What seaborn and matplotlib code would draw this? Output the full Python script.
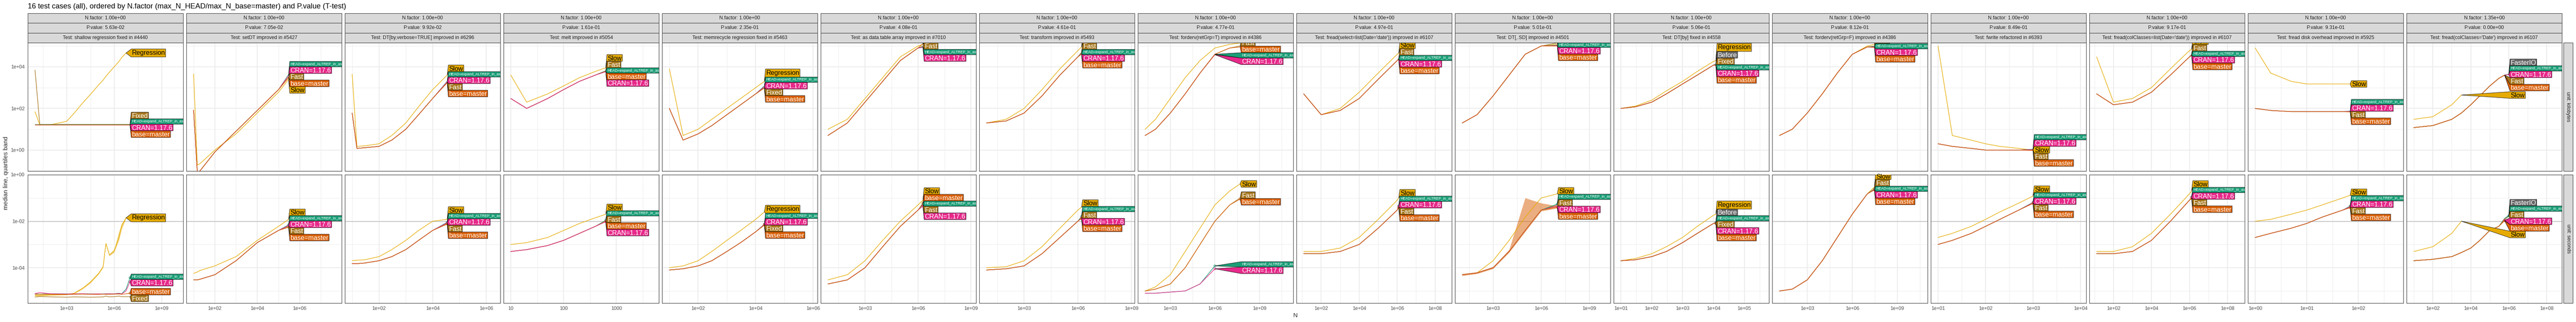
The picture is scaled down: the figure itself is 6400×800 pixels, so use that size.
import math

import matplotlib
matplotlib.use("Agg")
import matplotlib.pyplot as plt
import pandas as pd
import seaborn as sns
from matplotlib.patches import Polygon, Rectangle
from matplotlib.ticker import FixedLocator, NullFormatter, FixedFormatter
from matplotlib.transforms import IdentityTransform

TITLE = "16 test cases (all), ordered by N.factor (max_N_HEAD/max_N_base=master) and P.value (T-test)"

TEST_NAMES = [
    "shallow regression fixed in #4440",
    "setDT improved in #5427",
    "DT[by,verbose=TRUE] improved in #6296",
    "melt improved in #5054",
    "memrecycle regression fixed in #5463",
    "as.data.table.array improved in #7010",
    "transform improved in #5493",
    "forderv(retGrp=T) improved in #4386",
    "fread(select=list(Date='date')) improved in #6107",
    "DT[,.SD] improved in #4501",
    "DT[by] fixed in #4558",
    "forderv(retGrp=F) improved in #4386",
    "fwrite refactored in #6393",
    "fread(colClasses=list(Date='date')) improved in #6107",
    "fread disk overhead improved in #5925",
    "fread(colClasses='Date') improved in #6107",
]
N_FACTOR = ["1.00e+00"] * 15 + ["1.35e+00"]
P_VALUE = ["5.63e-02", "7.05e-02", "9.92e-02", "1.61e-01", "2.35e-01", "4.08e-01",
           "4.61e-01", "4.77e-01", "4.97e-01", "5.01e-01", "5.06e-01", "8.12e-01",
           "8.49e-01", "9.17e-01", "9.31e-01", "0.00e+00"]
UNITS = ["kilobytes", "seconds"]

VERSION_COLORS = {
    "HEAD": "#1B9E77", "base": "#D95F02", "CRAN": "#E7298A",
    "Fixed": "#A6761D", "Fast": "#A6761D",
    "Regression": "#E6AB02", "Slow": "#E6AB02",
    "FasterIO": "#666666", "Before": "#666666",
}
LABEL_TEXT = {"HEAD": "HEAD=expand_ALTREP_in_assign", "CRAN": "CRAN=1.17.6", "base": "base=master"}
DARK_TEXT = {"Regression", "Slow"}

# ---- panel data: N knots and median values per version (kilobytes / seconds) ----
p01_N = [10, 20, 1e2, 1e3, 3e3, 1e4, 3e4, 1e5, 2e5, 3e5, 5e5, 1e6, 2e6, 3e6, 5.6e6, 1e7]
p01_kb = {
    "Regression": [70, 16, 16.5, 24, 60, 180, 450, 1300, 2300, 3500, 5500, 10000, 18000, 28000, 46000],
    "Fixed": [7000, 17, 17, 17, 17, 17, 17, 17, 17, 17, 17, 17, 17, 17, 17, 17],
    "HEAD": [16.8] * 16,
    "CRAN": [16.5] * 16,
    "base": [16.2] * 16,
}
p01_sec = {
    "Regression": [6.4e-6, 6.5e-6, 6.8e-6, 7e-6, 8e-6, 1.3e-5, 2.3e-5, 5.5e-5, 1.1e-4, 1.1e-3, 3.5e-4, 5.5e-4, 2e-3, 6.5e-3, 1.4e-2],
    "Fixed": [5.5e-6, 5.8e-6, 5.6e-6, 5.4e-6, 5.6e-6, 5.5e-6, 5.4e-6, 5.5e-6, 5.6e-6, 6e-6, 5.6e-6, 5.7e-6, 6e-6, 5.7e-6, 5.7e-6, 5.7e-6],
    "HEAD": [7.5e-6, 7.4e-6, 7.6e-6, 7.5e-6, 7.4e-6, 7.6e-6, 7.5e-6, 7.4e-6, 7.5e-6, 7.6e-6, 7.5e-6, 7.6e-6, 8e-6, 7.6e-6, 1.2e-5, 3.7e-5],
    "CRAN": [7.8e-6, 8.5e-6, 7.6e-6, 7.4e-6, 7.5e-6, 7.6e-6, 7.4e-6, 7.5e-6, 7.4e-6, 7.5e-6, 7.6e-6, 7.5e-6, 7.8e-6, 7.5e-6, 1e-5, 2.5e-5],
    "base": [7.2e-6, 7.3e-6, 7.2e-6, 7.1e-6, 7.2e-6, 7.3e-6, 7.2e-6, 7.1e-6, 7.3e-6, 7.2e-6, 7.2e-6, 7.3e-6, 7.4e-6, 7.2e-6, 7.6e-6, 8e-6],
}

p02_N = [10, 15, 20, 1e2, 1e3, 1e4, 1e5, 3e5]
p02_kb = {
    "Slow": [4500, 0.19, 0.22, 1.0, 6, 60, 600, 2500],
    "Fast": [83, 0.08, 0.1, 0.8, 8, 80, 800, 3200],
    "HEAD": [83, 0.08, 0.1, 0.8, 8, 80, 800, 4200],
    "CRAN": [83, 0.08, 0.1, 0.8, 8, 80, 800, 3800],
    "base": [83, 0.08, 0.1, 0.8, 8, 80, 800, 3000],
}
p02_sec = {
    "Slow": [5.7e-5, 6.5e-5, 7.6e-5, 1.2e-4, 3e-4, 1.5e-3, 6e-3, 1.2e-2],
    "Fast": [3e-5, 3e-5, 3.2e-5, 5e-5, 2e-4, 1.2e-3, 4e-3, 6e-3],
    "HEAD": [3e-5, 3e-5, 3.2e-5, 5e-5, 2e-4, 1.2e-3, 4e-3, 7e-3],
    "CRAN": [3e-5, 3e-5, 3.2e-5, 5e-5, 2e-4, 1.2e-3, 4e-3, 6.5e-3],
    "base": [3e-5, 3e-5, 3.2e-5, 5e-5, 2e-4, 1.2e-3, 4e-3, 5.5e-3],
}

p03_N = [10, 15, 30, 1e2, 3e2, 1e3, 3e3, 1e4, 3.5e4]
p03_kb = {
    "Slow": [4400, 1.5, 1.6, 2, 5, 20, 120, 800, 4000],
    "Fast": [60, 1.2, 1.3, 1.5, 3, 10, 50, 300, 1800],
    "HEAD": [60, 1.2, 1.3, 1.5, 3, 10, 50, 300, 2000],
    "CRAN": [60, 1.2, 1.3, 1.5, 3, 10, 50, 300, 1900],
    "base": [60, 1.2, 1.3, 1.5, 3, 10, 50, 300, 1700],
}
p03_sec = {
    "Slow": [2e-4, 2.1e-4, 2.2e-4, 3e-4, 6e-4, 1.5e-3, 4e-3, 1e-2, 1.2e-2],
    "Fast": [1.5e-4, 1.5e-4, 1.6e-4, 2e-4, 3e-4, 6e-4, 1.5e-3, 4e-3, 8e-3],
    "HEAD": [1.5e-4, 1.5e-4, 1.6e-4, 2e-4, 3e-4, 6e-4, 1.5e-3, 4e-3, 9e-3],
    "CRAN": [1.5e-4, 1.5e-4, 1.6e-4, 2e-4, 3e-4, 6e-4, 1.5e-3, 4e-3, 8.5e-3],
    "base": [1.5e-4, 1.5e-4, 1.6e-4, 2e-4, 3e-4, 6e-4, 1.5e-3, 4e-3, 7.5e-3],
}

p04_N = [10, 20, 50, 100, 200, 400, 630]
p04_kb = {
    "Slow": [4000, 200, 500, 1200, 3000, 6000, 9000],
    "Fast": [300, 100, 300, 800, 2000, 4000, 6500],
    "HEAD": [300, 100, 300, 800, 2000, 4000, 6300],
    "base": [300, 100, 300, 800, 2000, 4000, 6000],
    "CRAN": [300, 100, 300, 800, 2000, 4000, 5800],
}
p04_sec = {
    "Slow": [1e-3, 1.2e-3, 2e-3, 4e-3, 8e-3, 1.4e-2, 2e-2],
    "Fast": [5e-4, 6e-4, 9e-4, 1.5e-3, 3e-3, 6e-3, 1e-2],
    "HEAD": [5e-4, 6e-4, 9e-4, 1.5e-3, 3e-3, 6e-3, 1.1e-2],
    "base": [5e-4, 6e-4, 9e-4, 1.5e-3, 3e-3, 6e-3, 1e-2],
    "CRAN": [5e-4, 6e-4, 9e-4, 1.5e-3, 3e-3, 6e-3, 9.5e-3],
}

p05_N = [10, 30, 1e2, 3e2, 1e3, 3e3, 1e4, 2e4]
p05_kb = {
    "Regression": [8000, 5, 10, 30, 100, 300, 1000, 2000],
    "Fixed": [100, 3, 6, 15, 50, 150, 500, 1000],
    "HEAD": [100, 3, 6, 15, 50, 150, 500, 1200],
    "CRAN": [100, 3, 6, 15, 50, 150, 500, 1100],
    "base": [100, 3, 6, 15, 50, 150, 500, 950],
}
p05_sec = {
    "Regression": [1e-4, 1.2e-4, 2e-4, 5e-4, 1.5e-3, 4e-3, 1.2e-2, 2.5e-2],
    "Fixed": [8e-5, 9e-5, 1.2e-4, 2e-4, 5e-4, 1.2e-3, 3.5e-3, 7e-3],
    "HEAD": [8e-5, 9e-5, 1.2e-4, 2e-4, 5e-4, 1.2e-3, 3.5e-3, 7.5e-3],
    "CRAN": [8e-5, 9e-5, 1.2e-4, 2e-4, 5e-4, 1.2e-3, 3.5e-3, 7.2e-3],
    "base": [8e-5, 9e-5, 1.2e-4, 2e-4, 5e-4, 1.2e-3, 3.5e-3, 6.8e-3],
}

p06_N = [8, 100, 1e3, 1e4, 1e5, 1e6, 1.9e6]
p06_kb = {
    "Slow": [10, 30, 300, 3000, 30000, 100000, 120000],
    "Fast": [5, 20, 200, 2000, 20000, 80000, 100000],
    "HEAD": [5, 20, 200, 2000, 20000, 80000, 90000],
    "CRAN": [5, 20, 200, 2000, 20000, 80000, 85000],
    "base": [5, 20, 200, 2000, 20000, 80000, 130000],
}
p06_sec = {
    "Slow": [3e-5, 5e-5, 2e-4, 1.5e-3, 1e-2, 5e-2, 8e-2],
    "Fast": [2e-5, 3e-5, 1e-4, 8e-4, 6e-3, 3e-2, 5e-2],
    "HEAD": [2e-5, 3e-5, 1e-4, 8e-4, 6e-3, 3e-2, 5.5e-2],
    "CRAN": [2e-5, 3e-5, 1e-4, 8e-4, 6e-3, 3e-2, 4.5e-2],
    "base": [2e-5, 3e-5, 1e-4, 8e-4, 6e-3, 3e-2, 6e-2],
}

p07_N = [8, 100, 1e3, 1e4, 1e5, 1e6, 1.6e6]
p07_kb = {
    "Slow": [20, 30, 100, 800, 8000, 60000, 90000],
    "Fast": [20, 25, 60, 400, 4000, 30000, 50000],
    "HEAD": [20, 25, 60, 400, 4000, 30000, 45000],
    "CRAN": [20, 25, 60, 400, 4000, 30000, 42000],
    "base": [20, 25, 60, 400, 4000, 30000, 40000],
}
p07_sec = {
    "Slow": [1e-4, 1.1e-4, 2e-4, 8e-4, 5e-3, 3e-2, 4e-2],
    "Fast": [8e-5, 9e-5, 1.2e-4, 4e-4, 2e-3, 1e-2, 1.5e-2],
    "HEAD": [8e-5, 9e-5, 1.2e-4, 4e-4, 2e-3, 1e-2, 1.6e-2],
    "CRAN": [8e-5, 9e-5, 1.2e-4, 4e-4, 2e-3, 1e-2, 1.4e-2],
    "base": [8e-5, 9e-5, 1.2e-4, 4e-4, 2e-3, 1e-2, 1.3e-2],
}

p08_N = [20, 100, 1e3, 1e4, 1e5, 1e6, 1e7, 5e7]
p08_kb = {
    "Slow": [10, 30, 300, 3000, 20000, 80000, 120000, 140000],
    "Fast": [5, 10, 60, 500, 5000, 40000, 80000, 100000],
    "HEAD": [5, 10, 60, 500, 5000, 40000],
    "CRAN": [5, 10, 60, 500, 5000, 38000],
    "base": [5, 10, 60, 500, 5000, 40000, 80000, 90000],
}
p08_sec = {
    "Slow": [1e-5, 1.5e-5, 5e-5, 5e-4, 5e-3, 5e-2, 2e-1, 4e-1],
    "Fast": [1e-5, 1.2e-5, 2e-5, 1e-4, 1e-3, 1e-2, 5e-2, 1e-1],
    "HEAD": [8e-6, 8e-6, 9e-6, 1e-5, 2e-5, 1.2e-4],
    "CRAN": [8e-6, 8e-6, 9e-6, 1e-5, 2e-5, 9e-5],
    "base": [1e-5, 1.2e-5, 2e-5, 1e-4, 1e-3, 1e-2, 5e-2, 9e-2],
}

p09_N = [12, 100, 1e3, 1e4, 1e5, 1e6, 1.2e6]
p09_kb = {
    "Slow": [500, 50, 100, 600, 5000, 40000, 45000],
    "Fast": [500, 50, 80, 300, 2500, 20000, 25000],
    "HEAD": [500, 50, 80, 300, 2500, 20000, 24000],
    "CRAN": [500, 50, 80, 300, 2500, 20000, 23000],
    "base": [500, 50, 80, 300, 2500, 20000, 22000],
}
p09_sec = {
    "Slow": [5e-4, 5e-4, 7e-4, 2e-3, 1.2e-2, 8e-2, 1e-1],
    "Fast": [4e-4, 4e-4, 5e-4, 1e-3, 5e-3, 3e-2, 4e-2],
    "HEAD": [4e-4, 4e-4, 5e-4, 1e-3, 5e-3, 3e-2, 4.5e-2],
    "CRAN": [4e-4, 4e-4, 5e-4, 1e-3, 5e-3, 3e-2, 4.2e-2],
    "base": [4e-4, 4e-4, 5e-4, 1e-3, 5e-3, 3e-2, 3.8e-2],
}

p10_N = [12, 100, 1e3, 1e4, 1e5, 1e6, 1e7]
p10_kb = {
    "Slow": [20, 50, 400, 4000, 40000, 100000, 120000],
    "Fast": [20, 50, 400, 4000, 40000, 100000, 140000],
    "HEAD": [20, 50, 400, 4000, 40000, 100000, 110000],
    "CRAN": [20, 50, 400, 4000, 40000, 100000, 105000],
    "base": [20, 50, 400, 4000, 40000, 100000, 100000],
}
p10_sec = {
    "Slow": [5e-5, 6e-5, 2e-4, 1.5e-3, 1.5e-2, 1e-1, 1.5e-1],
    "Fast": [5e-5, 6e-5, 1e-4, 5e-4, 4e-3, 3e-2, 5e-2],
    "HEAD": [5e-5, 6e-5, 1e-4, 5e-4, 4e-3, 3e-2, 5.5e-2],
    "CRAN": [5e-5, 6e-5, 1e-4, 5e-4, 4e-3, 3e-2, 4.5e-2],
    "base": [5e-5, 6e-5, 1e-4, 5e-4, 4e-3, 3e-2, 4e-2],
}

p11_N = [10, 30, 1e2, 3e2, 1e3, 3e3, 1e4, 1.2e4]
p11_kb = {
    "Before": [100, 120, 200, 500, 1500, 4000, 12000, 14000],
    "Regression": [100, 130, 250, 700, 2000, 6000, 18000, 20000],
    "Fixed": [100, 120, 200, 500, 1500, 4000, 12000, 13000],
    "HEAD": [100, 120, 200, 500, 1500, 4000, 12000, 12500],
    "CRAN": [100, 120, 200, 500, 1500, 4000, 12000, 12000],
    "base": [100, 120, 200, 500, 1500, 4000, 12000, 11500],
}
p11_sec = {
    "Before": [2e-4, 2.2e-4, 3e-4, 5e-4, 1.2e-3, 3e-3, 8e-3, 9e-3],
    "Regression": [2e-4, 2.5e-4, 4e-4, 8e-4, 2e-3, 6e-3, 1.8e-2, 2e-2],
    "Fixed": [2e-4, 2.2e-4, 3e-4, 5e-4, 1.2e-3, 3e-3, 8e-3, 8.5e-3],
    "HEAD": [2e-4, 2.2e-4, 3e-4, 5e-4, 1.2e-3, 3e-3, 8e-3, 8.8e-3],
    "CRAN": [2e-4, 2.2e-4, 3e-4, 5e-4, 1.2e-3, 3e-3, 8e-3, 8.2e-3],
    "base": [2e-4, 2.2e-4, 3e-4, 5e-4, 1.2e-3, 3e-3, 8e-3, 8e-3],
}

p12_N = [14, 100, 1e3, 1e4, 1e5, 1e6, 1e7, 3e7]
p12_kb = {
    "Slow": [5, 10, 60, 500, 5000, 40000, 100000, 120000],
    "Fast": [5, 10, 60, 500, 5000, 40000, 90000, 100000],
    "HEAD": [5, 10, 60, 500, 5000, 40000, 90000, 95000],
    "CRAN": [5, 10, 60, 500, 5000, 40000, 90000, 90000],
    "base": [5, 10, 60, 500, 5000, 40000, 90000, 85000],
}
p12_sec = {
    "Slow": [1e-5, 1.2e-5, 3e-5, 2e-4, 2e-3, 2e-2, 1.5e-1, 3e-1],
    "Fast": [1e-5, 1.2e-5, 3e-5, 2e-4, 2e-3, 2e-2, 1.5e-1, 2.5e-1],
    "HEAD": [1e-5, 1.2e-5, 3e-5, 2e-4, 2e-3, 2e-2, 1.5e-1, 2.4e-1],
    "CRAN": [1e-5, 1.2e-5, 3e-5, 2e-4, 2e-3, 2e-2, 1.5e-1, 2.3e-1],
    "base": [1e-5, 1.2e-5, 3e-5, 2e-4, 2e-3, 2e-2, 1.5e-1, 2.2e-1],
}

p13_N = [10, 20, 50, 100, 200, 500, 1000]
p13_kb = {
    "Slow": [100000, 5, 3, 2, 1.5, 1.2, 1],
    "Fast": [2, 1.5, 1.2, 1, 1, 1, 1],
    "HEAD": [2, 1.5, 1.2, 1, 1, 1, 1.1],
    "CRAN": [2, 1.5, 1.2, 1, 1, 1, 1.05],
    "base": [2, 1.5, 1.2, 1, 1, 1, 0.95],
}
p13_sec = {
    "Slow": [2e-3, 3e-3, 6e-3, 1.2e-2, 2.5e-2, 6e-2, 1.2e-1],
    "Fast": [1e-3, 1.5e-3, 3e-3, 6e-3, 1.2e-2, 3e-2, 6e-2],
    "HEAD": [1e-3, 1.5e-3, 3e-3, 6e-3, 1.2e-2, 3e-2, 6.5e-2],
    "CRAN": [1e-3, 1.5e-3, 3e-3, 6e-3, 1.2e-2, 3e-2, 6.2e-2],
    "base": [1e-3, 1.5e-3, 3e-3, 6e-3, 1.2e-2, 3e-2, 5.8e-2],
}

p14_N = [13, 100, 1e3, 1e4, 1e5, 1e6, 1.3e6]
p14_kb = {
    "Slow": [30000, 200, 300, 1000, 8000, 60000, 70000],
    "Fast": [500, 150, 200, 600, 4000, 30000, 40000],
    "HEAD": [500, 150, 200, 600, 4000, 30000, 38000],
    "CRAN": [500, 150, 200, 600, 4000, 30000, 36000],
    "base": [500, 150, 200, 600, 4000, 30000, 34000],
}
p14_sec = {
    "Slow": [5e-4, 5e-4, 8e-4, 3e-3, 2e-2, 1.5e-1, 2e-1],
    "Fast": [4e-4, 4e-4, 5e-4, 1.5e-3, 1e-2, 8e-2, 1e-1],
    "HEAD": [4e-4, 4e-4, 5e-4, 1.5e-3, 1e-2, 8e-2, 1.1e-1],
    "CRAN": [4e-4, 4e-4, 5e-4, 1.5e-3, 1e-2, 8e-2, 1.05e-1],
    "base": [4e-4, 4e-4, 5e-4, 1.5e-3, 1e-2, 8e-2, 9.5e-2],
}

p15_N = [1, 2, 5, 10, 20, 50, 70]
p15_kb = {
    "Slow": [80000, 5000, 2000, 1500, 1500, 1500, 1500],
    "Fast": [100, 80, 70, 70, 70, 70, 70],
    "HEAD": [100, 80, 70, 70, 70, 70, 75],
    "CRAN": [100, 80, 70, 70, 70, 70, 72],
    "base": [100, 80, 70, 70, 70, 70, 68],
}
p15_sec = {
    "Slow": [1e-2, 1.2e-2, 2e-2, 3e-2, 5e-2, 1e-1, 1.3e-1],
    "Fast": [2e-3, 3e-3, 5e-3, 8e-3, 1.5e-2, 3e-2, 4e-2],
    "HEAD": [2e-3, 3e-3, 5e-3, 8e-3, 1.5e-2, 3e-2, 4.5e-2],
    "CRAN": [2e-3, 3e-3, 5e-3, 8e-3, 1.5e-2, 3e-2, 4.2e-2],
    "base": [2e-3, 3e-3, 5e-3, 8e-3, 1.5e-2, 3e-2, 3.8e-2],
}

p16_N = [10, 1e2, 1e3, 3.2e3, 1e4, 3e4, 1e5, 3e5, 6e5, 1e6]
p16_kb = {
    "Slow": [30, 40, 150, 440],
    "FasterIO": [12, 15, 30, 60, 150, 400, 1200, 2800, 4000, 4400],
    "HEAD": [12, 15, 30, 60, 150, 400, 1200, 2800, 4000, 4300],
    "CRAN": [12, 15, 30, 60, 150, 400, 1200, 2800, 4000, 4200],
    "Fast": [12, 15, 30, 60, 150, 400, 1200, 2800, 4000],
    "base": [12, 15, 30, 60, 150, 400, 1200, 2800, 3900],
}
p16_sec = {
    "Slow": [5e-4, 8e-4, 3e-3, 1e-2],
    "FasterIO": [2e-4, 2.3e-4, 3e-4, 4.5e-4, 7e-4, 1.5e-3, 4e-3, 6e-3, 1.3e-2, 1.8e-2],
    "HEAD": [2e-4, 2.3e-4, 3e-4, 4.5e-4, 7e-4, 1.5e-3, 4e-3, 6e-3, 1.3e-2, 1.7e-2],
    "Fast": [2e-4, 2.3e-4, 3e-4, 4.5e-4, 7e-4, 1.5e-3, 4e-3, 6e-3, 1.2e-2, 1.6e-2],
    "CRAN": [2e-4, 2.3e-4, 3e-4, 4.5e-4, 7e-4, 1.5e-3, 4e-3, 6e-3, 1.1e-2],
    "base": [2e-4, 2.3e-4, 3e-4, 4.5e-4, 7e-4, 1.5e-3, 4e-3, 6e-3, 1.05e-2],
}

# quartile bands (lower, upper) shown in the seconds row
p01_sec_band = {
    "Regression": ([6e-6, 6e-6, 6.5e-6, 6.8e-6, 7.5e-6, 1.2e-5, 2.1e-5, 5e-5, 1e-4, 1e-3, 3.2e-4, 4.5e-4, 1.5e-3, 4.5e-3, 1.3e-2],
                   [7e-6, 7e-6, 7.2e-6, 7.4e-6, 8.6e-6, 1.4e-5, 2.6e-5, 6e-5, 1.2e-4, 1.2e-3, 3.8e-4, 6e-4, 3.5e-3, 8e-3, 1.5e-2]),
}
p10_sec_band = {
    "base": ([4.5e-5, 5.5e-5, 9e-5, 4.5e-4, 3.5e-3, 2.7e-2, 3.6e-2],
             [5.5e-5, 6.5e-5, 1.1e-4, 6e-4, 1e-1, 6e-2, 4.5e-2]),
}

PANEL_N = [p01_N, p02_N, p03_N, p04_N, p05_N, p06_N, p07_N, p08_N,
           p09_N, p10_N, p11_N, p12_N, p13_N, p14_N, p15_N, p16_N]
PANEL_KB = [p01_kb, p02_kb, p03_kb, p04_kb, p05_kb, p06_kb, p07_kb, p08_kb,
            p09_kb, p10_kb, p11_kb, p12_kb, p13_kb, p14_kb, p15_kb, p16_kb]
PANEL_SEC = [p01_sec, p02_sec, p03_sec, p04_sec, p05_sec, p06_sec, p07_sec, p08_sec,
             p09_sec, p10_sec, p11_sec, p12_sec, p13_sec, p14_sec, p15_sec, p16_sec]
PANEL_BANDS = {0: p01_sec_band, 9: p10_sec_band}

KB_LIMITS = (10 ** -1.01, 10 ** 5.16)
SEC_LIMITS = (10 ** -5.52, 1.0)

# ---- layout (pixels, origin top-left) ----
W, H, DPI = 6400, 800, 100
PANEL_X0, PANEL_W, PANEL_GAP = 69, 386, 8
ROWS_Y = [(106, 425), (434, 753)]
STRIP_Y = [(33, 57), (57.5, 81.5), (82, 106)]
LABEL_FS, HEAD_FS = 11.7, 6.6
PAD_X, PAD_Y = 1.5, 2.4


def fig_rect(x0, y0, x1, y1):
    return [x0 / W, 1 - y1 / H, (x1 - x0) / W, (y1 - y0) / H]


def r_log_breaks(lo, hi, n=5):
    mn, mx = math.floor(lo), math.ceil(hi)
    by = (mx - mn) // n + 1
    while True:
        br = list(range(mn, mx + 1, by))
        rel = [b for b in br if lo - 1e-9 <= b <= hi + 1e-9]
        if len(rel) >= n - 2 or by == 1:
            return br
        by -= 1


def r_format(exps):
    vals = [10.0 ** e for e in exps]
    dec = max(0, max(-e for e in exps))
    fixed = [f"{v:.{dec}f}" for v in vals]
    sci = [f"{v:.0e}" for v in vals]
    if max(len(s) for s in fixed) <= max(len(s) for s in sci):
        return fixed
    return sci


def style_axis(ax, lo, hi, axis, show_labels):
    br = r_log_breaks(lo, hi)
    step = br[1] - br[0] if len(br) > 1 else 1
    minors = [b + step / 2 for b in [br[0] - step] + br]
    labels = r_format(br)
    a = ax.xaxis if axis == "x" else ax.yaxis
    a.set_major_locator(FixedLocator([10.0 ** b for b in br]))
    a.set_minor_locator(FixedLocator([10.0 ** m for m in minors]))
    a.set_minor_formatter(NullFormatter())
    if show_labels:
        a.set_major_formatter(FixedFormatter(labels))
    else:
        a.set_major_formatter(NullFormatter())
    ax.tick_params(axis=axis, which="minor", length=0)
    ax.tick_params(axis=axis, which="major", length=3.8 if show_labels else 0,
                   width=0.8, color="#333333", labelsize=8.8, labelcolor="#4D4D4D", pad=2)


def place_labels(ax, ends, renderer):
    items = []
    for ver, xd, yd in ends:
        text = LABEL_TEXT.get(ver, ver)
        fs = HEAD_FS if ver == "HEAD" else LABEL_FS
        fpx = fs * DPI / 72
        desc = 0.21 * fpx if any(c in "gjpqy_" for c in text) else 0.0
        h = 0.716 * fpx + desc + 2 * PAD_Y
        items.append(dict(ver=ver, text=text, fs=fs, desc=desc, h=h, x=xd, y=yd))
    items.sort(key=lambda d: -d["y"])
    clusters = []
    for it in items:
        clusters.append({"items": [it]})
        while True:
            c = clusters[-1]
            offs, acc = [], 0.0
            for k in c["items"]:
                offs.append(acc + k["h"] / 2)
                acc += k["h"]
            c["top"] = sum(k["y"] + o for k, o in zip(c["items"], offs)) / len(offs)
            c["height"] = acc
            if len(clusters) > 1:
                p = clusters[-2]
                if p["top"] - p["height"] < c["top"]:
                    p["items"].extend(c["items"])
                    clusters.pop()
                    continue
            break
    bx = max(e[1] for e in ends) + 3
    for c in clusters:
        top = c["top"]
        for k in c["items"]:
            bot = top - k["h"]
            col = VERSION_COLORS[k["ver"]]
            t = ax.text(bx + PAD_X, bot + PAD_Y + k["desc"], k["text"], transform=IdentityTransform(),
                        fontsize=k["fs"], va="baseline", ha="left", zorder=6,
                        color="black" if k["ver"] in DARK_TEXT else "white")
            t.set_clip_path(ax.patch)
            w = t.get_window_extent(renderer=renderer).width + 2 * PAD_X
            poly = Polygon([(k["x"], k["y"]), (bx, top), (bx + w, top), (bx + w, bot), (bx, bot)],
                           closed=True, transform=IdentityTransform(), facecolor=col,
                           edgecolor="black", linewidth=0.6, zorder=5)
            poly.set_clip_path(ax.patch)
            ax.add_patch(poly)
            top = bot


sns.set_theme(style="white")
plt.rcParams["font.family"] = ["Liberation Sans", "DejaVu Sans"]

fig = plt.figure(figsize=(W / DPI, H / DPI), dpi=DPI)
renderer = fig.canvas.get_renderer()

fig.text(PANEL_X0 / W, 1 - 16 / H, TITLE, fontsize=13.2, va="center", ha="left", color="black")

rows = []
for i in range(16):
    for unit, table in (("kilobytes", PANEL_KB[i]), ("seconds", PANEL_SEC[i])):
        for ver, vals in table.items():
            for n, v in zip(PANEL_N[i], vals):
                rows.append({"panel": i, "unit": unit, "version": ver, "N": n, "value": v})
df = pd.DataFrame(rows)

for i in range(16):
    x0 = PANEL_X0 + i * (PANEL_W + PANEL_GAP)
    x1 = x0 + PANEL_W
    nlo, nhi = math.log10(min(PANEL_N[i])), math.log10(max(PANEL_N[i]))
    span = nhi - nlo
    xlo, xhi = nlo - span * 18 / 236, nhi + span * 132 / 236

    # facet strips
    strip_txt = [f"N.factor: {N_FACTOR[i]}", f"P.value: {P_VALUE[i]}", f"Test: {TEST_NAMES[i]}"]
    for (sy0, sy1), s in zip(STRIP_Y, strip_txt):
        fig.add_artist(Rectangle((x0 / W, 1 - sy1 / H), PANEL_W / W, (sy1 - sy0) / H,
                                 transform=fig.transFigure, facecolor="#D9D9D9",
                                 edgecolor="#333333", linewidth=0.8))
        fig.text((x0 + x1) / 2 / W, 1 - (sy0 + sy1) / 2 / H, s, fontsize=8.8,
                 color="#1A1A1A", ha="center", va="center")

    for r, unit in enumerate(UNITS):
        y0, y1 = ROWS_Y[r]
        ax = fig.add_axes(fig_rect(x0, y0, x1, y1))
        ax.set_xscale("log")
        ax.set_yscale("log")
        ax.set_xlim(10 ** xlo, 10 ** xhi)
        ylim = KB_LIMITS if unit == "kilobytes" else SEC_LIMITS
        ax.set_ylim(*ylim)
        style_axis(ax, xlo, xhi, "x", r == 1)
        style_axis(ax, math.log10(ylim[0]), math.log10(ylim[1]), "y", i == 0)
        ax.grid(which="major", color="#EBEBEB", linewidth=1.4)
        ax.grid(which="minor", color="#EBEBEB", linewidth=0.7)
        ax.set_axisbelow(True)
        for sp in ax.spines.values():
            sp.set_color("#333333")
            sp.set_linewidth(0.8)
        if unit == "seconds":
            ax.axhline(0.01, color="#B3B3B3", linewidth=1.0, zorder=1.5)

        sub = df[(df.panel == i) & (df.unit == unit)]
        order = list(PANEL_KB[i].keys())
        if unit == "seconds":
            for ver, (lo_b, hi_b) in PANEL_BANDS.get(i, {}).items():
                ax.fill_between(PANEL_N[i][:len(lo_b)], lo_b, hi_b, color=VERSION_COLORS[ver],
                                alpha=0.5, linewidth=0, zorder=2)
        sns.lineplot(data=sub, x="N", y="value", hue="version", hue_order=order,
                     palette=VERSION_COLORS, estimator=None, sort=False, legend=False,
                     linewidth=1.0, ax=ax, zorder=3)
        ax.set_xlabel("")
        ax.set_ylabel("")

        ends = []
        for ver in order:
            s = sub[sub.version == ver]
            if len(s) == 0:
                continue
            xd, yd = ax.transData.transform((s.N.iloc[-1], s.value.iloc[-1]))
            ends.append((ver, xd, yd))
            if unit == "seconds" and ver in ("HEAD", "CRAN", "base"):
                ax.scatter([s.N.iloc[-1]], [s.value.iloc[-1]], s=14, facecolors="none",
                           edgecolors=VERSION_COLORS[ver], linewidths=0.8, zorder=4)
        place_labels(ax, ends, renderer)

        if i == 15:
            fig.add_artist(Rectangle((6369 / W, 1 - y1 / H), 23 / W, (y1 - y0) / H,
                                     transform=fig.transFigure, facecolor="#D9D9D9",
                                     edgecolor="#333333", linewidth=0.8))
            fig.text(6380.5 / W, 1 - (y0 + y1) / 2 / H, f"unit: {unit}", rotation=-90,
                     fontsize=8.8, color="#1A1A1A", ha="center", va="center")

fig.text(15 / W, 1 - 430 / H, "median line, quartiles band", rotation=90, fontsize=11,
         ha="center", va="center")
fig.text(3218 / W, 1 - 784 / H, "N", fontsize=11, ha="center", va="center")

fig.savefig("out.png", dpi=DPI, facecolor="white")
